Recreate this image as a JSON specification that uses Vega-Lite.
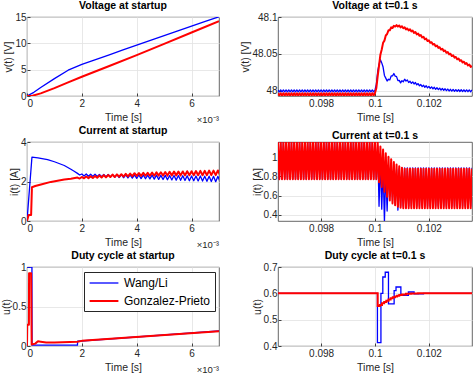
{
"$schema": "https://vega.github.io/schema/vega-lite/v6.json",
"background": "white",
"padding": {"left": 0, "top": 0, "right": 0, "bottom": 0},
"config": {
  "font": "Liberation Sans",
  "view": {"stroke": "#404040", "strokeWidth": 0.8},
  "axis": {"domain": false, "grid": true, "gridColor": "#e2e2e2", "gridWidth": 0.8, "tickColor": "#404040", "tickSize": -3, "labelFontSize": 10, "labelColor": "#262626", "labelOverlap": false, "titleFontSize": 10.5, "titleFontWeight": "normal", "titleColor": "#262626"},
  "axisX": {"labelPadding": 5, "titlePadding": 4},
  "axisY": {"labelPadding": 4, "titlePadding": 1},
  "title": {"fontSize": 10.5, "fontWeight": "bold", "color": "#000000", "offset": 1, "frame": "group"}
},
"columns": 2,
"spacing": {"row": 46, "column": 59},
"bounds": "flush",
"align": "each",
"resolve": {"scale": {"color": "independent", "strokeWidth": "independent"}, "legend": {"color": "independent"}},
"concat": [
  {"width": 192, "height": 79, "title": "Voltage at startup",
   "layer": [
    {"data": {"name": "v0"},
     "transform": [{"fold": ["vW", "vG"], "as": ["series", "y"]}, {"filter": "isValid(datum.y)"}],
     "mark": {"type": "line", "clip": true, "strokeJoin": "round"},
     "encoding": {
       "x": {"field": "t", "type": "quantitative", "scale": {"domain": [0, 0.007], "nice": false}, "axis": {"values": [0, 0.002, 0.004, 0.006], "labelExpr": "format(datum.value*1000,'~g')", "title": "Time [s]"}},
       "y": {"field": "y", "type": "quantitative", "scale": {"domain": [0, 15], "nice": false}, "axis": {"values": [0, 5, 10, 15], "format": "~g", "title": "v(t) [V]"}},
       "color": {"field": "series", "type": "nominal", "scale": {"domain": ["vW", "vG"], "range": ["#0000ff", "#ff0000"]}, "legend": null},
       "strokeWidth": {"field": "series", "type": "nominal", "scale": {"domain": ["vW", "vG"], "range": [1.3, 2]}, "legend": null}
     }},
    {"data": {"values": [{}]},
     "mark": {"type": "text", "align": "right", "baseline": "middle", "fontSize": 9.5, "color": "#262626"},
     "encoding": {
       "x": {"datum": 0.007, "type": "quantitative", "axis": {"values": [0, 0.002, 0.004, 0.006], "labelExpr": "format(datum.value*1000,'~g')", "title": "Time [s]"}},
       "y": {"datum": -4.6, "type": "quantitative", "axis": {"values": [0, 5, 10, 15], "format": "~g", "title": "v(t) [V]"}},
       "text": {"value": "×10⁻³"}}}
   ]},
  {"width": 194, "height": 79, "title": "Voltage at t=0.1 s",
   "data": {"name": "r"},
   "transform": [{"fold": ["vW", "vG"], "as": ["series", "y"]}, {"filter": "isValid(datum.y)"}],
   "mark": {"type": "line", "clip": true, "strokeJoin": "round"},
   "encoding": {
     "x": {"field": "t", "type": "quantitative", "scale": {"domain": [0.0964, 0.1036], "nice": false, "zero": false}, "axis": {"values": [0.098, 0.1, 0.102], "format": "~g", "title": "Time [s]"}},
     "y": {"field": "y", "type": "quantitative", "scale": {"domain": [47.993, 48.1], "nice": false, "zero": false}, "axis": {"values": [48, 48.05, 48.1], "format": "~g", "title": "v(t) [V]"}},
     "color": {"field": "series", "type": "nominal", "scale": {"domain": ["vW", "vG"], "range": ["#0000ff", "#ff0000"]}, "legend": null},
     "strokeWidth": {"field": "series", "type": "nominal", "scale": {"domain": ["vW", "vG"], "range": [1.3, 2]}, "legend": null}
   }},
  {"width": 192, "height": 79, "title": "Current at startup",
   "layer": [
    {"data": {"name": "i0"},
     "transform": [{"fold": ["iW", "iG"], "as": ["series", "y"]}, {"filter": "isValid(datum.y)"}],
     "mark": {"type": "line", "clip": true, "strokeJoin": "round"},
     "encoding": {
       "x": {"field": "t", "type": "quantitative", "scale": {"domain": [0, 0.007], "nice": false}, "axis": {"values": [0, 0.002, 0.004, 0.006], "labelExpr": "format(datum.value*1000,'~g')", "title": "Time [s]"}},
       "y": {"field": "y", "type": "quantitative", "scale": {"domain": [0, 4], "nice": false}, "axis": {"values": [0, 2, 4], "format": "~g", "title": "i(t) [A]"}},
       "color": {"field": "series", "type": "nominal", "scale": {"domain": ["iW", "iG"], "range": ["#0000ff", "#ff0000"]}, "legend": null},
       "strokeWidth": {"field": "series", "type": "nominal", "scale": {"domain": ["iW", "iG"], "range": [1.3, 2]}, "legend": null}
     }},
    {"data": {"values": [{}]},
     "mark": {"type": "text", "align": "right", "baseline": "middle", "fontSize": 9.5, "color": "#262626"},
     "encoding": {
       "x": {"datum": 0.007, "type": "quantitative", "axis": {"values": [0, 0.002, 0.004, 0.006], "labelExpr": "format(datum.value*1000,'~g')", "title": "Time [s]"}},
       "y": {"datum": -1.22, "type": "quantitative", "axis": {"values": [0, 2, 4], "format": "~g", "title": "i(t) [A]"}},
       "text": {"value": "×10⁻³"}}}
   ]},
  {"width": 194, "height": 79, "title": "Current at t=0.1 s",
   "data": {"name": "r"},
   "transform": [{"fold": ["iW", "iG"], "as": ["series", "y"]}, {"filter": "isValid(datum.y)"}],
   "mark": {"type": "line", "clip": true, "strokeJoin": "round"},
   "encoding": {
     "x": {"field": "t", "type": "quantitative", "scale": {"domain": [0.0964, 0.1036], "nice": false, "zero": false}, "axis": {"values": [0.098, 0.1, 0.102], "format": "~g", "title": "Time [s]"}},
     "y": {"field": "y", "type": "quantitative", "scale": {"domain": [0.337, 1.158], "nice": false, "zero": false}, "axis": {"values": [0.4, 0.6, 0.8, 1], "format": "~g", "title": "i(t) [A]"}},
     "color": {"field": "series", "type": "nominal", "scale": {"domain": ["iW", "iG"], "range": ["#0000ff", "#ff0000"]}, "legend": null},
     "strokeWidth": {"field": "series", "type": "nominal", "scale": {"domain": ["iW", "iG"], "range": [1.3, 2]}, "legend": null}
   }},
  {"width": 192, "height": 79, "title": "Duty cycle at startup",
   "layer": [
    {"data": {"name": "u0"},
     "transform": [{"fold": ["uW", "uG"], "as": ["series", "y"]}, {"filter": "isValid(datum.y)"}],
     "mark": {"type": "line", "clip": true, "strokeJoin": "round"},
     "encoding": {
       "x": {"field": "t", "type": "quantitative", "scale": {"domain": [0, 0.007], "nice": false}, "axis": {"values": [0, 0.002, 0.004, 0.006], "labelExpr": "format(datum.value*1000,'~g')", "title": "Time [s]"}},
       "y": {"field": "y", "type": "quantitative", "scale": {"domain": [0, 1], "nice": false}, "axis": {"values": [0, 0.5, 1], "format": "~g", "title": "u(t)"}},
       "color": {"field": "series", "type": "nominal", "scale": {"domain": ["uW", "uG"], "range": ["#0000ff", "#ff0000"]},
         "legend": {"orient": "none", "legendX": 57, "legendY": 5, "title": null, "labelExpr": "datum.label == 'uW' ? 'Wang/Li' : 'Gonzalez-Prieto'", "labelFontSize": 12, "labelColor": "#000000", "symbolType": "M-2.4,0H2.4", "symbolSize": 144, "symbolOffset": 9, "symbolStrokeWidth": 2, "strokeColor": "#262626", "fillColor": "#ffffff", "padding": 4, "rowPadding": 5, "labelOffset": 13}},
       "strokeWidth": {"field": "series", "type": "nominal", "scale": {"domain": ["uW", "uG"], "range": [1.3, 2]}, "legend": null}
     }},
    {"data": {"values": [{}]},
     "mark": {"type": "text", "align": "right", "baseline": "middle", "fontSize": 9.5, "color": "#262626"},
     "encoding": {
       "x": {"datum": 0.007, "type": "quantitative", "axis": {"values": [0, 0.002, 0.004, 0.006], "labelExpr": "format(datum.value*1000,'~g')", "title": "Time [s]"}},
       "y": {"datum": -0.305, "type": "quantitative", "axis": {"values": [0, 0.5, 1], "format": "~g", "title": "u(t)"}},
       "text": {"value": "×10⁻³"}}}
   ]},
  {"width": 194, "height": 79, "title": "Duty cycle at t=0.1 s",
   "data": {"name": "d6"},
   "transform": [{"fold": ["uW", "uG"], "as": ["series", "y"]}, {"filter": "isValid(datum.y)"}],
   "mark": {"type": "line", "clip": true, "interpolate": "step-after"},
   "encoding": {
     "x": {"field": "t", "type": "quantitative", "scale": {"domain": [0.0964, 0.1036], "nice": false, "zero": false}, "axis": {"values": [0.098, 0.1, 0.102], "format": "~g", "title": "Time [s]"}},
     "y": {"field": "y", "type": "quantitative", "scale": {"domain": [0.4, 0.7], "nice": false, "zero": false}, "axis": {"values": [0.4, 0.5, 0.6, 0.7], "format": "~g", "title": "u(t)"}},
     "color": {"field": "series", "type": "nominal", "scale": {"domain": ["uW", "uG"], "range": ["#0000ff", "#ff0000"]}, "legend": null},
     "strokeWidth": {"field": "series", "type": "nominal", "scale": {"domain": ["uW", "uG"], "range": [1.3, 2]}, "legend": null}
   }}
],
"datasets": {
"v0": [
{"t":0,"vW":0,"vG":0},
{"t":0.0002,"vG":0.05},
{"t":0.00025,"vW":0.7},
{"t":0.0005,"vW":1.6,"vG":0.5},
{"t":0.001,"vW":3.3,"vG":1.5},
{"t":0.0015,"vW":4.9,"vG":2.6},
{"t":0.002,"vW":6.0,"vG":3.65},
{"t":0.0025,"vW":6.9},
{"t":0.003,"vW":7.8,"vG":5.7},
{"t":0.0035,"vW":8.75},
{"t":0.004,"vW":9.65,"vG":7.75},
{"t":0.0045,"vW":10.55},
{"t":0.005,"vW":11.45,"vG":9.9},
{"t":0.0055,"vW":12.35},
{"t":0.006,"vW":13.25,"vG":12.05},
{"t":0.0065,"vW":14.15},
{"t":0.007,"vW":15.05,"vG":14.2}
],
"i0": [
{"t":0,"iW":0,"iG":0},
{"t":0.00006,"iG":0.3},
{"t":0.00015,"iG":0.3},
{"t":0.00018,"iW":3.23,"iG":1.71},
{"t":0.0003,"iG":1.77},
{"t":0.0004,"iW":3.2},
{"t":0.00051,"iG":1.85},
{"t":0.00075,"iW":3.11},
{"t":0.00087,"iG":1.98},
{"t":0.001,"iW":3.0},
{"t":0.00136,"iW":2.81,"iG":2.1},
{"t":0.0016,"iW":2.62,"iG":2.14},
{"t":0.00172,"iW":2.52},
{"t":0.00184,"iW":2.41,"iG":2.2},
{"t":0.00192,"iW":2.33,"iG":2.15},
{"t":0.002,"iW":2.38,"iG":2.23},
{"t":0.00208,"iW":2.28,"iG":2.16},
{"t":0.00216,"iW":2.38,"iG":2.25},
{"t":0.00224,"iW":2.27,"iG":2.17},
{"t":0.00232,"iW":2.37,"iG":2.26},
{"t":0.0024,"iW":2.26,"iG":2.18},
{"t":0.00248,"iW":2.37,"iG":2.28},
{"t":0.00256,"iW":2.25,"iG":2.19},
{"t":0.00264,"iW":2.36,"iG":2.3},
{"t":0.00272,"iW":2.24,"iG":2.2},
{"t":0.0028,"iW":2.36,"iG":2.32},
{"t":0.00288,"iW":2.23,"iG":2.21},
{"t":0.00296,"iW":2.36,"iG":2.33},
{"t":0.00304,"iW":2.22,"iG":2.23},
{"t":0.00312,"iW":2.35,"iG":2.35},
{"t":0.0032,"iW":2.21,"iG":2.23},
{"t":0.00328,"iW":2.35,"iG":2.36},
{"t":0.00336,"iW":2.2,"iG":2.24},
{"t":0.00344,"iW":2.35,"iG":2.37},
{"t":0.00352,"iW":2.19,"iG":2.25},
{"t":0.0036,"iW":2.34,"iG":2.39},
{"t":0.00368,"iW":2.18,"iG":2.26},
{"t":0.00376,"iW":2.34,"iG":2.4},
{"t":0.00384,"iW":2.17,"iG":2.27},
{"t":0.00392,"iW":2.33,"iG":2.42},
{"t":0.004,"iW":2.16,"iG":2.28},
{"t":0.00408,"iW":2.33,"iG":2.43},
{"t":0.00416,"iW":2.15,"iG":2.28},
{"t":0.00424,"iW":2.33,"iG":2.44},
{"t":0.00432,"iW":2.14,"iG":2.29},
{"t":0.0044,"iW":2.32,"iG":2.44},
{"t":0.00448,"iW":2.13,"iG":2.29},
{"t":0.00456,"iW":2.32,"iG":2.45},
{"t":0.00464,"iW":2.12,"iG":2.29},
{"t":0.00472,"iW":2.32,"iG":2.46},
{"t":0.0048,"iW":2.11,"iG":2.3},
{"t":0.00488,"iW":2.31,"iG":2.47},
{"t":0.00496,"iW":2.1,"iG":2.3},
{"t":0.00504,"iW":2.31,"iG":2.48},
{"t":0.00512,"iW":2.09,"iG":2.3},
{"t":0.0052,"iW":2.3,"iG":2.49},
{"t":0.00528,"iW":2.08,"iG":2.31},
{"t":0.00536,"iW":2.3,"iG":2.5},
{"t":0.00544,"iW":2.07,"iG":2.31},
{"t":0.00552,"iW":2.3,"iG":2.5},
{"t":0.0056,"iW":2.06,"iG":2.31},
{"t":0.00568,"iW":2.29,"iG":2.51},
{"t":0.00576,"iW":2.05,"iG":2.31},
{"t":0.00584,"iW":2.29,"iG":2.52},
{"t":0.00592,"iW":2.04,"iG":2.32},
{"t":0.006,"iW":2.28,"iG":2.52},
{"t":0.00608,"iW":2.04,"iG":2.32},
{"t":0.00616,"iW":2.28,"iG":2.53},
{"t":0.00624,"iW":2.03,"iG":2.32},
{"t":0.00632,"iW":2.28,"iG":2.54},
{"t":0.0064,"iW":2.02,"iG":2.32},
{"t":0.00648,"iW":2.27,"iG":2.54},
{"t":0.00656,"iW":2.01,"iG":2.32},
{"t":0.00664,"iW":2.27,"iG":2.55},
{"t":0.00672,"iW":2.0,"iG":2.32},
{"t":0.0068,"iW":2.26,"iG":2.55},
{"t":0.00688,"iW":1.99,"iG":2.32},
{"t":0.00696,"iW":2.26,"iG":2.56},
{"t":0.00704,"iW":1.98,"iG":2.32}
],
"u0": [
{"t":0,"uW":1,"uG":0},
{"t":0.00001,"uG":0.27},
{"t":0.00007,"uG":0.27},
{"t":0.000075,"uG":0.92},
{"t":0.00015,"uG":0.92},
{"t":0.00017,"uG":0.02},
{"t":0.00018,"uW":1},
{"t":0.000185,"uW":0.01},
{"t":0.0003,"uG":0.03},
{"t":0.0004,"uG":0.06},
{"t":0.0005,"uG":0.055},
{"t":0.0007,"uG":0.045},
{"t":0.001,"uG":0.045},
{"t":0.00184,"uW":0.01,"uG":0.055},
{"t":0.001845,"uW":0.06},
{"t":0.002,"uG":0.065},
{"t":0.007,"uW":0.19,"uG":0.188}
],
"d6": [
{"t":0.0964,"uW":0.6,"uG":0.6},
{"t":0.10009,"uW":0.413},
{"t":0.1001,"uG":0.552},
{"t":0.10018,"uG":0.556},
{"t":0.10022,"uW":0.6},
{"t":0.10026,"uG":0.562},
{"t":0.10029,"uW":0.662},
{"t":0.10034,"uG":0.567},
{"t":0.10038,"uW":0.68},
{"t":0.10042,"uG":0.572},
{"t":0.1005,"uW":0.56,"uG":0.577},
{"t":0.10058,"uG":0.581},
{"t":0.10066,"uG":0.585},
{"t":0.10071,"uW":0.61},
{"t":0.10074,"uG":0.588},
{"t":0.10078,"uW":0.624},
{"t":0.10082,"uG":0.591},
{"t":0.1009,"uG":0.594},
{"t":0.10096,"uW":0.592},
{"t":0.101,"uG":0.596},
{"t":0.10115,"uG":0.598},
{"t":0.10124,"uW":0.605},
{"t":0.10135,"uG":0.599},
{"t":0.10145,"uW":0.598},
{"t":0.1016,"uG":0.6},
{"t":0.1018,"uW":0.6},
{"t":0.1036,"uW":0.6,"uG":0.6}
],
"r": [
{"t":0.0964,"vW":48.0012,"vG":47.9968,"iW":1.155,"iG":1.155},
{"t":0.09645,"vW":47.9986,"vG":47.9938,"iW":0.772,"iG":0.772},
{"t":0.0965,"vW":48.0012,"vG":47.9968,"iW":1.155,"iG":1.155},
{"t":0.09655,"vW":47.9986,"vG":47.9938,"iW":0.772,"iG":0.772},
{"t":0.0966,"vW":48.0012,"vG":47.9968,"iW":1.155,"iG":1.155},
{"t":0.09665,"vW":47.9986,"vG":47.9938,"iW":0.772,"iG":0.772},
{"t":0.0967,"vW":48.0012,"vG":47.9968,"iW":1.155,"iG":1.155},
{"t":0.09675,"vW":47.9986,"vG":47.9938,"iW":0.772,"iG":0.772},
{"t":0.0968,"vW":48.0012,"vG":47.9968,"iW":1.155,"iG":1.155},
{"t":0.09685,"vW":47.9986,"vG":47.9938,"iW":0.772,"iG":0.772},
{"t":0.0969,"vW":48.0012,"vG":47.9968,"iW":1.155,"iG":1.155},
{"t":0.09695,"vW":47.9986,"vG":47.9938,"iW":0.772,"iG":0.772},
{"t":0.097,"vW":48.0012,"vG":47.9968,"iW":1.155,"iG":1.155},
{"t":0.09705,"vW":47.9986,"vG":47.9938,"iW":0.772,"iG":0.772},
{"t":0.0971,"vW":48.0012,"vG":47.9968,"iW":1.155,"iG":1.155},
{"t":0.09715,"vW":47.9986,"vG":47.9938,"iW":0.772,"iG":0.772},
{"t":0.0972,"vW":48.0012,"vG":47.9968,"iW":1.155,"iG":1.155},
{"t":0.09725,"vW":47.9986,"vG":47.9938,"iW":0.772,"iG":0.772},
{"t":0.0973,"vW":48.0012,"vG":47.9968,"iW":1.155,"iG":1.155},
{"t":0.09735,"vW":47.9986,"vG":47.9938,"iW":0.772,"iG":0.772},
{"t":0.0974,"vW":48.0012,"vG":47.9968,"iW":1.155,"iG":1.155},
{"t":0.09745,"vW":47.9986,"vG":47.9938,"iW":0.772,"iG":0.772},
{"t":0.0975,"vW":48.0012,"vG":47.9968,"iW":1.155,"iG":1.155},
{"t":0.09755,"vW":47.9986,"vG":47.9938,"iW":0.772,"iG":0.772},
{"t":0.0976,"vW":48.0012,"vG":47.9968,"iW":1.155,"iG":1.155},
{"t":0.09765,"vW":47.9986,"vG":47.9938,"iW":0.772,"iG":0.772},
{"t":0.0977,"vW":48.0012,"vG":47.9968,"iW":1.155,"iG":1.155},
{"t":0.09775,"vW":47.9986,"vG":47.9938,"iW":0.772,"iG":0.772},
{"t":0.0978,"vW":48.0012,"vG":47.9968,"iW":1.155,"iG":1.155},
{"t":0.09785,"vW":47.9986,"vG":47.9938,"iW":0.772,"iG":0.772},
{"t":0.0979,"vW":48.0012,"vG":47.9968,"iW":1.155,"iG":1.155},
{"t":0.09795,"vW":47.9986,"vG":47.9938,"iW":0.772,"iG":0.772},
{"t":0.098,"vW":48.0012,"vG":47.9968,"iW":1.155,"iG":1.155},
{"t":0.09805,"vW":47.9986,"vG":47.9938,"iW":0.772,"iG":0.772},
{"t":0.0981,"vW":48.0012,"vG":47.9968,"iW":1.155,"iG":1.155},
{"t":0.09815,"vW":47.9986,"vG":47.9938,"iW":0.772,"iG":0.772},
{"t":0.0982,"vW":48.0012,"vG":47.9968,"iW":1.155,"iG":1.155},
{"t":0.09825,"vW":47.9986,"vG":47.9938,"iW":0.772,"iG":0.772},
{"t":0.0983,"vW":48.0012,"vG":47.9968,"iW":1.155,"iG":1.155},
{"t":0.09835,"vW":47.9986,"vG":47.9938,"iW":0.772,"iG":0.772},
{"t":0.0984,"vW":48.0012,"vG":47.9968,"iW":1.155,"iG":1.155},
{"t":0.09845,"vW":47.9986,"vG":47.9938,"iW":0.772,"iG":0.772},
{"t":0.0985,"vW":48.0012,"vG":47.9968,"iW":1.155,"iG":1.155},
{"t":0.09855,"vW":47.9986,"vG":47.9938,"iW":0.772,"iG":0.772},
{"t":0.0986,"vW":48.0012,"vG":47.9968,"iW":1.155,"iG":1.155},
{"t":0.09865,"vW":47.9986,"vG":47.9938,"iW":0.772,"iG":0.772},
{"t":0.0987,"vW":48.0012,"vG":47.9968,"iW":1.155,"iG":1.155},
{"t":0.09875,"vW":47.9986,"vG":47.9938,"iW":0.772,"iG":0.772},
{"t":0.0988,"vW":48.0012,"vG":47.9968,"iW":1.155,"iG":1.155},
{"t":0.09885,"vW":47.9986,"vG":47.9938,"iW":0.772,"iG":0.772},
{"t":0.0989,"vW":48.0012,"vG":47.9968,"iW":1.155,"iG":1.155},
{"t":0.09895,"vW":47.9986,"vG":47.9938,"iW":0.772,"iG":0.772},
{"t":0.099,"vW":48.0012,"vG":47.9968,"iW":1.155,"iG":1.155},
{"t":0.09905,"vW":47.9986,"vG":47.9938,"iW":0.772,"iG":0.772},
{"t":0.0991,"vW":48.0012,"vG":47.9968,"iW":1.155,"iG":1.155},
{"t":0.09915,"vW":47.9986,"vG":47.9938,"iW":0.772,"iG":0.772},
{"t":0.0992,"vW":48.0012,"vG":47.9968,"iW":1.155,"iG":1.155},
{"t":0.09925,"vW":47.9986,"vG":47.9938,"iW":0.772,"iG":0.772},
{"t":0.0993,"vW":48.0012,"vG":47.9968,"iW":1.155,"iG":1.155},
{"t":0.09935,"vW":47.9986,"vG":47.9938,"iW":0.772,"iG":0.772},
{"t":0.0994,"vW":48.0012,"vG":47.9968,"iW":1.155,"iG":1.155},
{"t":0.09945,"vW":47.9986,"vG":47.9938,"iW":0.772,"iG":0.772},
{"t":0.0995,"vW":48.0012,"vG":47.9968,"iW":1.155,"iG":1.155},
{"t":0.09955,"vW":47.9986,"vG":47.9938,"iW":0.772,"iG":0.772},
{"t":0.0996,"vW":48.0012,"vG":47.9968,"iW":1.155,"iG":1.155},
{"t":0.09965,"vW":47.9986,"vG":47.9938,"iW":0.772,"iG":0.772},
{"t":0.0997,"vW":48.0012,"vG":47.9968,"iW":1.155,"iG":1.155},
{"t":0.09975,"vW":47.9986,"vG":47.9938,"iW":0.772,"iG":0.772},
{"t":0.0998,"vW":48.0012,"vG":47.9968,"iW":1.155,"iG":1.155},
{"t":0.09985,"vW":47.9986,"vG":47.9938,"iW":0.772,"iG":0.772},
{"t":0.0999,"vW":48.0012,"vG":47.9968,"iW":1.155,"iG":1.155},
{"t":0.09995,"vW":47.9986,"vG":47.9938,"iW":0.772,"iG":0.772},
{"t":0.1,"vW":48.0011,"vG":47.997,"iW":1.155,"iG":1.155},
{"t":0.10005,"vW":48.0088,"vG":48.004,"iW":0.772,"iG":0.772},
{"t":0.1001,"vW":48.0262,"vG":48.02,"iW":1.12,"iG":1.15},
{"t":0.10015,"vW":48.0358,"vG":48.034,"iW":0.49,"iG":0.74},
{"t":0.1002,"vW":48.0422,"vG":48.049,"iW":0.98,"iG":1.11},
{"t":0.10025,"vW":48.0378,"vG":48.056,"iW":0.46,"iG":0.69},
{"t":0.1003,"vW":48.0322,"vG":48.065,"iW":0.9,"iG":1.08},
{"t":0.10035,"vW":48.0208,"vG":48.068,"iW":0.33,"iG":0.64},
{"t":0.1004,"vW":48.0172,"vG":48.075,"iW":0.86,"iG":1.04},
{"t":0.10045,"vW":48.0133,"vG":48.077,"iW":0.44,"iG":0.59},
{"t":0.1005,"vW":48.0157,"vG":48.082,"iW":0.88,"iG":1.005},
{"t":0.10055,"vW":48.0148,"vG":48.082,"iW":0.6,"iG":0.55},
{"t":0.1006,"vW":48.0202,"vG":48.086,"iW":0.9,"iG":0.98},
{"t":0.10065,"vW":48.0203,"vG":48.085,"iW":0.55,"iG":0.52},
{"t":0.1007,"vW":48.0234,"vG":48.088,"iW":0.89,"iG":0.95},
{"t":0.10075,"vW":48.0198,"vG":48.087,"iW":0.5,"iG":0.5},
{"t":0.1008,"vW":48.0192,"vG":48.089,"iW":0.87,"iG":0.925},
{"t":0.10085,"vW":48.0138,"vG":48.087,"iW":0.45,"iG":0.485},
{"t":0.1009,"vW":48.0142,"vG":48.0885,"iW":0.88,"iG":0.905},
{"t":0.10095,"vW":48.0108,"vG":48.086,"iW":0.49,"iG":0.475},
{"t":0.101,"vW":48.0137,"vG":48.0875,"iW":0.89,"iG":0.89},
{"t":0.10105,"vW":48.0123,"vG":48.0848,"iW":0.49,"iG":0.47},
{"t":0.1011,"vW":48.0157,"vG":48.086,"iW":0.89,"iG":0.88},
{"t":0.10115,"vW":48.0133,"vG":48.0833,"iW":0.49,"iG":0.47},
{"t":0.1012,"vW":48.0147,"vG":48.0845,"iW":0.89,"iG":0.88},
{"t":0.10125,"vW":48.0113,"vG":48.0818,"iW":0.49,"iG":0.47},
{"t":0.1013,"vW":48.013,"vG":48.0832,"iW":0.89,"iG":0.88},
{"t":0.10135,"vW":48.0101,"vG":48.0805,"iW":0.49,"iG":0.47},
{"t":0.1014,"vW":48.0122,"vG":48.0815,"iW":0.89,"iG":0.88},
{"t":0.10145,"vW":48.0093,"vG":48.0785,"iW":0.49,"iG":0.47},
{"t":0.1015,"vW":48.0112,"vG":48.0795,"iW":0.89,"iG":0.88},
{"t":0.10155,"vW":48.0081,"vG":48.0765,"iW":0.49,"iG":0.47},
{"t":0.1016,"vW":48.0098,"vG":48.0775,"iW":0.89,"iG":0.88},
{"t":0.10165,"vW":48.0068,"vG":48.0745,"iW":0.49,"iG":0.47},
{"t":0.1017,"vW":48.0086,"vG":48.0755,"iW":0.89,"iG":0.88},
{"t":0.10175,"vW":48.0057,"vG":48.0723,"iW":0.49,"iG":0.47},
{"t":0.1018,"vW":48.0076,"vG":48.0731,"iW":0.89,"iG":0.88},
{"t":0.10185,"vW":48.0048,"vG":48.0699,"iW":0.49,"iG":0.47},
{"t":0.1019,"vW":48.0068,"vG":48.0707,"iW":0.89,"iG":0.88},
{"t":0.10195,"vW":48.004,"vG":48.0675,"iW":0.49,"iG":0.47},
{"t":0.102,"vW":48.006,"vG":48.0683,"iW":0.89,"iG":0.88},
{"t":0.10205,"vW":48.0033,"vG":48.0651,"iW":0.49,"iG":0.47},
{"t":0.1021,"vW":48.0054,"vG":48.0659,"iW":0.89,"iG":0.88},
{"t":0.10215,"vW":48.0027,"vG":48.0627,"iW":0.49,"iG":0.47},
{"t":0.1022,"vW":48.0048,"vG":48.0635,"iW":0.89,"iG":0.88},
{"t":0.10225,"vW":48.0021,"vG":48.0604,"iW":0.49,"iG":0.47},
{"t":0.1023,"vW":48.0042,"vG":48.0613,"iW":0.89,"iG":0.88},
{"t":0.10235,"vW":48.0016,"vG":48.0582,"iW":0.49,"iG":0.47},
{"t":0.1024,"vW":48.0037,"vG":48.0591,"iW":0.89,"iG":0.88},
{"t":0.10245,"vW":48.001,"vG":48.056,"iW":0.49,"iG":0.47},
{"t":0.1025,"vW":48.0032,"vG":48.0569,"iW":0.89,"iG":0.88},
{"t":0.10255,"vW":48.0006,"vG":48.0538,"iW":0.49,"iG":0.47},
{"t":0.1026,"vW":48.0028,"vG":48.0547,"iW":0.89,"iG":0.88},
{"t":0.10265,"vW":48.0002,"vG":48.0516,"iW":0.49,"iG":0.47},
{"t":0.1027,"vW":48.0024,"vG":48.0525,"iW":0.89,"iG":0.88},
{"t":0.10275,"vW":47.9998,"vG":48.0494,"iW":0.49,"iG":0.47},
{"t":0.1028,"vW":48.0021,"vG":48.0503,"iW":0.89,"iG":0.88},
{"t":0.10285,"vW":47.9996,"vG":48.0472,"iW":0.49,"iG":0.47},
{"t":0.1029,"vW":48.0019,"vG":48.0481,"iW":0.89,"iG":0.88},
{"t":0.10295,"vW":47.9994,"vG":48.045,"iW":0.49,"iG":0.47},
{"t":0.103,"vW":48.0017,"vG":48.0459,"iW":0.89,"iG":0.88},
{"t":0.10305,"vW":47.9992,"vG":48.0428,"iW":0.49,"iG":0.47},
{"t":0.1031,"vW":48.0016,"vG":48.0437,"iW":0.89,"iG":0.88},
{"t":0.10315,"vW":47.9991,"vG":48.0406,"iW":0.49,"iG":0.47},
{"t":0.1032,"vW":48.0015,"vG":48.0415,"iW":0.89,"iG":0.88},
{"t":0.10325,"vW":47.999,"vG":48.0385,"iW":0.49,"iG":0.47},
{"t":0.1033,"vW":48.0014,"vG":48.0395,"iW":0.89,"iG":0.88},
{"t":0.10335,"vW":47.9989,"vG":48.0365,"iW":0.49,"iG":0.47},
{"t":0.1034,"vW":48.0013,"vG":48.0375,"iW":0.89,"iG":0.88},
{"t":0.10345,"vW":47.9988,"vG":48.0345,"iW":0.49,"iG":0.47},
{"t":0.1035,"vW":48.0012,"vG":48.0355,"iW":0.89,"iG":0.88},
{"t":0.10355,"vW":47.9987,"vG":48.0325,"iW":0.49,"iG":0.47},
{"t":0.1036,"vW":48.0012,"vG":48.0335,"iW":0.89,"iG":0.88}
]
}
}
